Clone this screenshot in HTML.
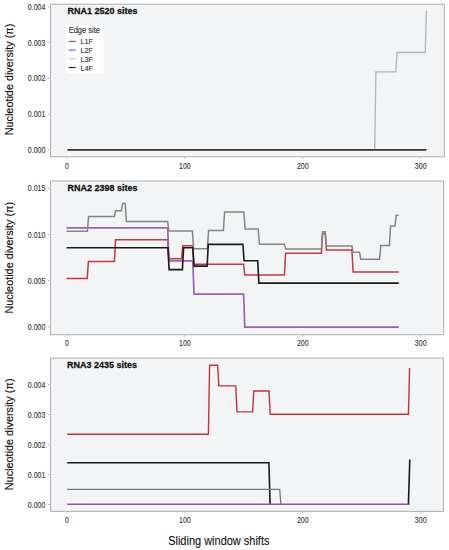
<!DOCTYPE html><html><head><meta charset="utf-8"><style>html,body{margin:0;padding:0;background:#fff;}svg{display:block;}</style></head><body>
<svg width="449" height="550" viewBox="0 0 449 550" font-family='"Liberation Sans", sans-serif'>
<rect x="0" y="0" width="449" height="550" fill="#ffffff"/>
<rect x="50.5" y="4.2" width="393.8" height="152.55" fill="#f3f4f6" stroke="#b4b4b4" stroke-width="1.1"/>
<line x1="48.0" y1="149.8" x2="50.5" y2="149.8" stroke="#c0c0c0" stroke-width="1"/>
<text x="0" y="0" font-size="7" fill="#3a3a3a" stroke="#3a3a3a" stroke-width="0.12" text-anchor="end" transform="translate(45.3,152.8) scale(1,1.22)">0.000</text>
<line x1="48.0" y1="114.1" x2="50.5" y2="114.1" stroke="#c0c0c0" stroke-width="1"/>
<text x="0" y="0" font-size="7" fill="#3a3a3a" stroke="#3a3a3a" stroke-width="0.12" text-anchor="end" transform="translate(45.3,117.1) scale(1,1.22)">0.001</text>
<line x1="48.0" y1="78.4" x2="50.5" y2="78.4" stroke="#c0c0c0" stroke-width="1"/>
<text x="0" y="0" font-size="7" fill="#3a3a3a" stroke="#3a3a3a" stroke-width="0.12" text-anchor="end" transform="translate(45.3,81.4) scale(1,1.22)">0.002</text>
<line x1="48.0" y1="42.7" x2="50.5" y2="42.7" stroke="#c0c0c0" stroke-width="1"/>
<text x="0" y="0" font-size="7" fill="#3a3a3a" stroke="#3a3a3a" stroke-width="0.12" text-anchor="end" transform="translate(45.3,45.7) scale(1,1.22)">0.003</text>
<line x1="48.0" y1="7.0" x2="50.5" y2="7.0" stroke="#c0c0c0" stroke-width="1"/>
<text x="0" y="0" font-size="7" fill="#3a3a3a" stroke="#3a3a3a" stroke-width="0.12" text-anchor="end" transform="translate(45.3,10.0) scale(1,1.22)">0.004</text>
<line x1="67.0" y1="156.75" x2="67.0" y2="158.95" stroke="#c4c4c4" stroke-width="1"/>
<text x="0" y="0" font-size="7" fill="#3a3a3a" stroke="#3a3a3a" stroke-width="0.12" text-anchor="middle" transform="translate(67.0,168.7) scale(1,1.2)">0</text>
<line x1="184.9" y1="156.75" x2="184.9" y2="158.95" stroke="#c4c4c4" stroke-width="1"/>
<text x="0" y="0" font-size="7" fill="#3a3a3a" stroke="#3a3a3a" stroke-width="0.12" text-anchor="middle" transform="translate(184.9,168.7) scale(1,1.2)">100</text>
<line x1="302.8" y1="156.75" x2="302.8" y2="158.95" stroke="#c4c4c4" stroke-width="1"/>
<text x="0" y="0" font-size="7" fill="#3a3a3a" stroke="#3a3a3a" stroke-width="0.12" text-anchor="middle" transform="translate(302.8,168.7) scale(1,1.2)">200</text>
<line x1="420.7" y1="156.75" x2="420.7" y2="158.95" stroke="#c4c4c4" stroke-width="1"/>
<text x="0" y="0" font-size="7" fill="#3a3a3a" stroke="#3a3a3a" stroke-width="0.12" text-anchor="middle" transform="translate(420.7,168.7) scale(1,1.2)">300</text>
<text x="0" y="0" font-size="10.85" fill="#111" stroke="#111" stroke-width="0.15" text-anchor="middle" transform="translate(12.95,79.45) rotate(-90)">Nucleotide diversity (π)</text>
<text x="0" y="0" font-size="9" font-weight="bold" fill="#111" stroke="#111" stroke-width="0.25" transform="translate(67.5,14.399999999999999) scale(1,1.08)">RNA1 2520 sites</text>
<rect x="50.5" y="181.1" width="393.1" height="153.6" fill="#f3f4f6" stroke="#b4b4b4" stroke-width="1.1"/>
<line x1="48.0" y1="326.8" x2="50.5" y2="326.8" stroke="#c0c0c0" stroke-width="1"/>
<text x="0" y="0" font-size="7" fill="#3a3a3a" stroke="#3a3a3a" stroke-width="0.12" text-anchor="end" transform="translate(45.3,329.8) scale(1,1.22)">0.000</text>
<line x1="48.0" y1="280.7" x2="50.5" y2="280.7" stroke="#c0c0c0" stroke-width="1"/>
<text x="0" y="0" font-size="7" fill="#3a3a3a" stroke="#3a3a3a" stroke-width="0.12" text-anchor="end" transform="translate(45.3,283.7) scale(1,1.22)">0.005</text>
<line x1="48.0" y1="234.5" x2="50.5" y2="234.5" stroke="#c0c0c0" stroke-width="1"/>
<text x="0" y="0" font-size="7" fill="#3a3a3a" stroke="#3a3a3a" stroke-width="0.12" text-anchor="end" transform="translate(45.3,237.5) scale(1,1.22)">0.010</text>
<line x1="48.0" y1="188.3" x2="50.5" y2="188.3" stroke="#c0c0c0" stroke-width="1"/>
<text x="0" y="0" font-size="7" fill="#3a3a3a" stroke="#3a3a3a" stroke-width="0.12" text-anchor="end" transform="translate(45.3,191.3) scale(1,1.22)">0.015</text>
<line x1="67.0" y1="334.7" x2="67.0" y2="336.9" stroke="#c4c4c4" stroke-width="1"/>
<text x="0" y="0" font-size="7" fill="#3a3a3a" stroke="#3a3a3a" stroke-width="0.12" text-anchor="middle" transform="translate(67.0,345.6) scale(1,1.2)">0</text>
<line x1="184.9" y1="334.7" x2="184.9" y2="336.9" stroke="#c4c4c4" stroke-width="1"/>
<text x="0" y="0" font-size="7" fill="#3a3a3a" stroke="#3a3a3a" stroke-width="0.12" text-anchor="middle" transform="translate(184.9,345.6) scale(1,1.2)">100</text>
<line x1="302.8" y1="334.7" x2="302.8" y2="336.9" stroke="#c4c4c4" stroke-width="1"/>
<text x="0" y="0" font-size="7" fill="#3a3a3a" stroke="#3a3a3a" stroke-width="0.12" text-anchor="middle" transform="translate(302.8,345.6) scale(1,1.2)">200</text>
<line x1="420.7" y1="334.7" x2="420.7" y2="336.9" stroke="#c4c4c4" stroke-width="1"/>
<text x="0" y="0" font-size="7" fill="#3a3a3a" stroke="#3a3a3a" stroke-width="0.12" text-anchor="middle" transform="translate(420.7,345.6) scale(1,1.2)">300</text>
<text x="0" y="0" font-size="10.85" fill="#111" stroke="#111" stroke-width="0.15" text-anchor="middle" transform="translate(12.95,257.7) rotate(-90)">Nucleotide diversity (π)</text>
<text x="0" y="0" font-size="9" font-weight="bold" fill="#111" stroke="#111" stroke-width="0.25" transform="translate(67.5,191.29999999999998) scale(1,1.08)">RNA2 2398 sites</text>
<rect x="50.5" y="358.1" width="392.9" height="153.29999999999995" fill="#f3f4f6" stroke="#b4b4b4" stroke-width="1.1"/>
<line x1="48.0" y1="504.5" x2="50.5" y2="504.5" stroke="#c0c0c0" stroke-width="1"/>
<text x="0" y="0" font-size="7" fill="#3a3a3a" stroke="#3a3a3a" stroke-width="0.12" text-anchor="end" transform="translate(45.3,507.5) scale(1,1.22)">0.000</text>
<line x1="48.0" y1="474.5" x2="50.5" y2="474.5" stroke="#c0c0c0" stroke-width="1"/>
<text x="0" y="0" font-size="7" fill="#3a3a3a" stroke="#3a3a3a" stroke-width="0.12" text-anchor="end" transform="translate(45.3,477.5) scale(1,1.22)">0.001</text>
<line x1="48.0" y1="444.5" x2="50.5" y2="444.5" stroke="#c0c0c0" stroke-width="1"/>
<text x="0" y="0" font-size="7" fill="#3a3a3a" stroke="#3a3a3a" stroke-width="0.12" text-anchor="end" transform="translate(45.3,447.5) scale(1,1.22)">0.002</text>
<line x1="48.0" y1="414.5" x2="50.5" y2="414.5" stroke="#c0c0c0" stroke-width="1"/>
<text x="0" y="0" font-size="7" fill="#3a3a3a" stroke="#3a3a3a" stroke-width="0.12" text-anchor="end" transform="translate(45.3,417.5) scale(1,1.22)">0.003</text>
<line x1="48.0" y1="384.6" x2="50.5" y2="384.6" stroke="#c0c0c0" stroke-width="1"/>
<text x="0" y="0" font-size="7" fill="#3a3a3a" stroke="#3a3a3a" stroke-width="0.12" text-anchor="end" transform="translate(45.3,387.6) scale(1,1.22)">0.004</text>
<line x1="67.0" y1="511.4" x2="67.0" y2="513.6" stroke="#c4c4c4" stroke-width="1"/>
<text x="0" y="0" font-size="7" fill="#3a3a3a" stroke="#3a3a3a" stroke-width="0.12" text-anchor="middle" transform="translate(67.0,523.0) scale(1,1.2)">0</text>
<line x1="184.9" y1="511.4" x2="184.9" y2="513.6" stroke="#c4c4c4" stroke-width="1"/>
<text x="0" y="0" font-size="7" fill="#3a3a3a" stroke="#3a3a3a" stroke-width="0.12" text-anchor="middle" transform="translate(184.9,523.0) scale(1,1.2)">100</text>
<line x1="302.8" y1="511.4" x2="302.8" y2="513.6" stroke="#c4c4c4" stroke-width="1"/>
<text x="0" y="0" font-size="7" fill="#3a3a3a" stroke="#3a3a3a" stroke-width="0.12" text-anchor="middle" transform="translate(302.8,523.0) scale(1,1.2)">200</text>
<line x1="420.7" y1="511.4" x2="420.7" y2="513.6" stroke="#c4c4c4" stroke-width="1"/>
<text x="0" y="0" font-size="7" fill="#3a3a3a" stroke="#3a3a3a" stroke-width="0.12" text-anchor="middle" transform="translate(420.7,523.0) scale(1,1.2)">300</text>
<text x="0" y="0" font-size="10.85" fill="#111" stroke="#111" stroke-width="0.15" text-anchor="middle" transform="translate(12.95,434.35) rotate(-90)">Nucleotide diversity (π)</text>
<text x="0" y="0" font-size="9" font-weight="bold" fill="#111" stroke="#111" stroke-width="0.25" transform="translate(66.9,368.3) scale(1,1.08)">RNA3 2435 sites</text>
<text x="0" y="0" font-size="11" fill="#111" stroke="#111" stroke-width="0.1" text-anchor="middle" transform="translate(218.8,544.7) scale(1,1.12)">Sliding window shifts</text>
<path d="M67.50,150.00 L374.70,150.00 L375.90,71.80 L395.80,71.80 L397.00,52.50 L425.20,52.50 L426.40,10.80" fill="none" stroke="#b4b4b4" stroke-width="1.3" stroke-linejoin="miter"/>
<path d="M67.50,149.90 L426.50,149.90" fill="none" stroke="#383838" stroke-width="1.7" stroke-linejoin="miter"/>
<rect x="66" y="24.7" width="37.5" height="48.8" fill="#ffffff"/>
<text x="0" y="0" font-size="7.5" fill="#333" stroke="#333" stroke-width="0.12" transform="translate(68.7,33.4) scale(1,1.1)">Edge site</text>
<line x1="68.7" y1="41.4" x2="75.7" y2="41.4" stroke="#c13a42" stroke-width="1.1"/>
<text x="0" y="0" font-size="7.3" fill="#333" stroke="#333" stroke-width="0.12" transform="translate(80.5,44.4) scale(1,1.1)">L1F</text>
<line x1="68.7" y1="50.099999999999994" x2="75.7" y2="50.099999999999994" stroke="#9448c0" stroke-width="1.1"/>
<text x="0" y="0" font-size="7.3" fill="#333" stroke="#333" stroke-width="0.12" transform="translate(80.5,53.099999999999994) scale(1,1.1)">L2F</text>
<line x1="68.7" y1="58.8" x2="75.7" y2="58.8" stroke="#c4c4c4" stroke-width="1.1"/>
<text x="0" y="0" font-size="7.3" fill="#333" stroke="#333" stroke-width="0.12" transform="translate(80.5,61.8) scale(1,1.1)">L3F</text>
<line x1="68.7" y1="67.5" x2="75.7" y2="67.5" stroke="#1a1a1a" stroke-width="1.1"/>
<text x="0" y="0" font-size="7.3" fill="#333" stroke="#333" stroke-width="0.12" transform="translate(80.5,70.5) scale(1,1.1)">L4F</text>
<path d="M66.50,278.50 L87.20,278.50 L88.40,261.60 L114.40,261.60 L115.60,239.80 L167.70,239.80 L168.90,258.80 L181.60,258.80 L182.80,245.70 L192.60,245.70 L193.80,264.30 L243.60,264.30 L244.80,275.10 L284.40,275.10 L285.60,253.20 L321.40,253.20 L322.60,233.40 L325.20,233.40 L326.40,249.90 L351.90,249.90 L353.10,272.10 L398.80,272.10" fill="none" stroke="#c13a42" stroke-width="1.5" stroke-linejoin="miter"/>
<path d="M66.50,227.90 L167.70,227.90 L168.90,260.80 L192.80,260.80 L194.00,294.20 L243.60,294.20 L244.80,327.20 L398.80,327.20" fill="none" stroke="#9c62b8" stroke-width="1.7" stroke-linejoin="miter"/>
<path d="M66.50,231.20 L87.40,231.20 L88.60,216.50 L114.40,216.50 L115.60,210.80 L121.40,210.80 L122.60,203.50 L125.20,203.50 L126.40,221.60 L167.70,221.60 L168.90,231.10 L192.40,231.10 L193.60,248.80 L207.40,248.80 L208.60,230.50 L223.40,230.50 L224.60,211.90 L243.90,211.90 L245.10,228.90 L258.20,228.90 L259.40,244.30 L284.40,244.30 L285.60,248.90 L321.40,248.90 L322.60,231.70 L325.20,231.70 L326.40,246.10 L351.90,246.10 L353.10,252.30 L359.50,252.30 L360.70,259.20 L379.60,259.20 L380.80,245.40 L389.40,245.40 L390.60,226.00 L395.00,226.00 L396.20,215.20 L398.60,215.20" fill="none" stroke="#858585" stroke-width="1.5" stroke-linejoin="miter"/>
<path d="M66.50,247.70 L167.90,247.70 L169.10,269.60 L182.40,269.60 L183.60,247.70 L192.80,247.70 L194.00,266.10 L207.10,266.10 L208.30,244.40 L242.90,244.40 L244.10,260.80 L257.70,260.80 L258.90,283.10 L398.80,283.10" fill="none" stroke="#1a1a1a" stroke-width="1.6" stroke-linejoin="miter"/>
<path d="M67.20,434.30 L208.40,434.30 L209.60,365.20 L217.60,365.20 L218.80,385.90 L235.80,385.90 L237.00,411.90 L252.60,411.90 L253.80,391.00 L269.00,391.00 L270.20,414.30 L408.40,414.30 L409.60,368.10" fill="none" stroke="#c3333b" stroke-width="1.4" stroke-linejoin="miter"/>
<path d="M67.20,462.70 L268.90,462.70 L270.10,504.50 M408.4,504.5 L409.8,459.4" fill="none" stroke="#1a1a1a" stroke-width="1.6" stroke-linejoin="miter"/>
<path d="M67.20,489.30 L279.70,489.30 L280.90,504.40" fill="none" stroke="#7a7a7a" stroke-width="1.3" stroke-linejoin="miter"/>
<path d="M67.20,504.30 L409.80,504.30" fill="none" stroke="#9150aa" stroke-width="1.5" stroke-linejoin="miter"/>
</svg></body></html>
